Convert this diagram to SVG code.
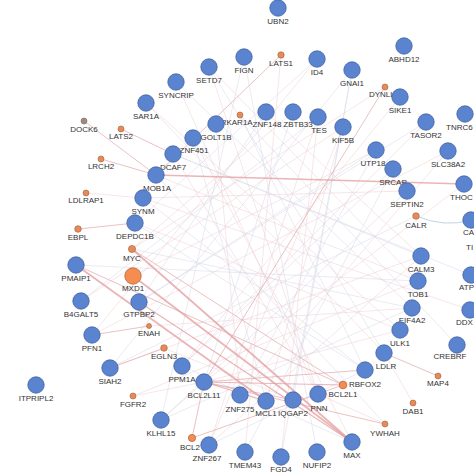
<svg xmlns="http://www.w3.org/2000/svg" width="474" height="474" viewBox="0 0 474 474">
<style>
.b{fill:#5b84d0;stroke:#41619f;stroke-width:0.8}
.o{fill:#f58d50;stroke:#b8663c;stroke-width:0.8}
.s{fill:#e48b58;stroke:#a8603a;stroke-width:0.6}
.g{fill:#a08a80;stroke:#7a6a62;stroke-width:0.6}
text{font-family:"Liberation Sans",Arial,sans-serif;font-size:8px;fill:#333;text-anchor:middle}
.f{stroke:#ebcbd0;stroke-width:0.6;fill:none;opacity:0.8}
.q{stroke:#d3d5e6;stroke-width:0.6;fill:none;opacity:0.8}
.m{stroke:#e6b2b6;stroke-width:0.9;fill:none;opacity:0.9}
.t{stroke:#e39c9f;stroke-width:1.8;fill:none;opacity:0.75}
</style>
<rect width="474" height="474" fill="#fff"/>
<g id="connectors">
<line class="f" x1="209" y1="67" x2="418" y2="281"/>
<line class="q" x1="176" y1="82" x2="412" y2="308"/>
<line class="f" x1="146" y1="103" x2="400" y2="330"/>
<line class="q" x1="244" y1="57" x2="161" y2="420"/>
<line class="f" x1="317" y1="59" x2="92" y2="335"/>
<line class="q" x1="352" y1="70" x2="110" y2="368"/>
<line class="f" x1="343" y1="127" x2="209" y2="445"/>
<line class="q" x1="318" y1="117" x2="81" y2="301"/>
<line class="f" x1="293" y1="112" x2="132" y2="249"/>
<line class="q" x1="266" y1="112" x2="139" y2="302"/>
<line class="f" x1="376" y1="150" x2="133" y2="276"/>
<line class="q" x1="393" y1="169" x2="182" y2="366"/>
<line class="f" x1="407" y1="191" x2="143" y2="198"/>
<line class="q" x1="421" y1="256" x2="173" y2="154"/>
<line class="f" x1="418" y1="281" x2="156" y2="175"/>
<line class="q" x1="412" y1="308" x2="132" y2="249"/>
<line class="f" x1="384" y1="353" x2="146" y2="103"/>
<line class="q" x1="365" y1="370" x2="135" y2="223"/>
<line class="f" x1="318" y1="394" x2="209" y2="67"/>
<line class="q" x1="293" y1="400" x2="352" y2="70"/>
<line class="f" x1="266" y1="401" x2="343" y2="127"/>
<line class="q" x1="240" y1="395" x2="376" y2="150"/>
<line class="f" x1="352" y1="442" x2="193" y2="138"/>
<line class="q" x1="317" y1="452" x2="244" y2="57"/>
<line class="f" x1="281" y1="457" x2="318" y2="117"/>
<line class="q" x1="245" y1="452" x2="393" y2="169"/>
<line class="f" x1="209" y1="445" x2="421" y2="256"/>
<line class="q" x1="161" y1="420" x2="407" y2="191"/>
<line class="f" x1="182" y1="366" x2="426" y2="122"/>
<line class="q" x1="110" y1="368" x2="416" y2="216"/>
<line class="f" x1="92" y1="335" x2="448" y2="151"/>
<line class="q" x1="139" y1="302" x2="376" y2="150"/>
<line class="f" x1="81" y1="301" x2="343" y2="127"/>
<line class="q" x1="76" y1="265" x2="418" y2="281"/>
<line class="f" x1="135" y1="223" x2="400" y2="330"/>
<line class="q" x1="143" y1="198" x2="365" y2="370"/>
<line class="f" x1="173" y1="154" x2="318" y2="394"/>
<line class="q" x1="193" y1="138" x2="266" y2="401"/>
<line class="f" x1="216" y1="124" x2="240" y2="395"/>
<line class="q" x1="293" y1="112" x2="204" y2="382"/>
<line class="f" x1="318" y1="117" x2="209" y2="445"/>
<line class="q" x1="352" y1="70" x2="281" y2="457"/>
<line class="f" x1="400" y1="97" x2="182" y2="366"/>
<line class="q" x1="426" y1="122" x2="139" y2="302"/>
<line class="f" x1="385" y1="87" x2="132" y2="249"/>
<line class="f" x1="464" y1="184" x2="204" y2="382"/>
<line class="q" x1="471" y1="275" x2="173" y2="154"/>
<line class="f" x1="470" y1="310" x2="143" y2="198"/>
<line class="q" x1="457" y1="345" x2="240" y2="115"/>
<line class="f" x1="448" y1="151" x2="240" y2="395"/>
<line class="q" x1="240" y1="115" x2="365" y2="370"/>
<line class="f" x1="281" y1="55" x2="245" y2="452"/>
<line class="q" x1="317" y1="59" x2="135" y2="223"/>
<line class="f" x1="86" y1="193" x2="143" y2="198"/>
<line class="f" x1="413" y1="403" x2="384" y2="353"/>
<line class="f" x1="385" y1="424" x2="318" y2="394"/>
<line class="q" x1="385" y1="424" x2="156" y2="175"/>
<line class="f" x1="133" y1="396" x2="204" y2="382"/>
<line class="f" x1="161" y1="420" x2="204" y2="382"/>
<line class="q" x1="182" y1="366" x2="352" y2="442"/>
<line class="f" x1="164" y1="348" x2="293" y2="400"/>
<line class="f" x1="149" y1="326" x2="412" y2="308"/>
<line class="q" x1="209" y1="445" x2="365" y2="370"/>
<line class="f" x1="266" y1="112" x2="421" y2="256"/>
<line class="q" x1="209" y1="67" x2="384" y2="353"/>
<line class="f" x1="176" y1="82" x2="318" y2="394"/>
<line class="f" x1="400" y1="330" x2="204" y2="382"/>
<line class="q" x1="412" y1="308" x2="161" y2="420"/>
<line class="f" x1="418" y1="281" x2="133" y2="396"/>
<line class="f" x1="421" y1="256" x2="110" y2="368"/>
<line class="m" x1="281" y1="55" x2="156" y2="175"/>
<line class="m" x1="121" y1="129" x2="173" y2="154"/>
<line class="m" x1="101" y1="159" x2="156" y2="175"/>
<line class="m" x1="84" y1="121" x2="156" y2="175"/>
<line class="m" x1="78" y1="229" x2="135" y2="223"/>
<line class="m" x1="92" y1="335" x2="149" y2="326"/>
<line class="m" x1="110" y1="368" x2="164" y2="348"/>
<line class="m" x1="192" y1="438" x2="204" y2="382"/>
<line class="m" x1="438" y1="376" x2="384" y2="353"/>
<line class="m" x1="385" y1="424" x2="204" y2="382"/>
<line class="m" x1="385" y1="87" x2="204" y2="382"/>
<line class="m" x1="132" y1="249" x2="343" y2="385"/>
<line class="m" x1="204" y1="382" x2="365" y2="370"/>
<line class="m" x1="204" y1="382" x2="293" y2="400"/>
<line class="m" x1="192" y1="438" x2="343" y2="385"/>
<line class="m" x1="76" y1="265" x2="343" y2="385"/>
<path d="M416 216 Q445 228 471 220" fill="none" stroke="#b7cfe3" stroke-width="0.9"/>
<line class="t" x1="156" y1="175" x2="464" y2="184" style="stroke-width:1.5"/>
<line class="t" x1="76" y1="265" x2="266" y2="401"/>
<line class="t" x1="133" y1="276" x2="352" y2="442"/>
<line class="t" x1="132" y1="249" x2="352" y2="442"/>
<line class="t" x1="139" y1="302" x2="352" y2="442" style="stroke-width:1.2"/>
<line class="t" x1="204" y1="382" x2="266" y2="401" style="stroke-width:1.2"/>
<line class="t" x1="204" y1="382" x2="343" y2="385" style="stroke-width:1.2"/>
</g>
<g id="UBN2"><circle class="b" cx="278" cy="8" r="8.2"/><text x="278" y="24">UBN2</text></g>
<g id="FIGN"><circle class="b" cx="244" cy="57" r="8.2"/><text x="244" y="73">FIGN</text></g>
<g id="LATS1"><circle class="s" cx="281" cy="55" r="3.2"/><text x="281" y="66">LATS1</text></g>
<g id="ID4"><circle class="b" cx="317" cy="59" r="8.2"/><text x="317" y="75">ID4</text></g>
<g id="GNAI1"><circle class="b" cx="352" cy="70" r="8.2"/><text x="352" y="86">GNAI1</text></g>
<g id="ABHD12"><circle class="b" cx="404" cy="46" r="8.2"/><text x="404" y="62">ABHD12</text></g>
<g id="DYNLL1"><circle class="s" cx="385" cy="87" r="3"/><text x="384" y="97">DYNLL1</text></g>
<g id="SIKE1"><circle class="b" cx="400" cy="97" r="8.2"/><text x="400" y="113">SIKE1</text></g>
<g id="TNRC6"><circle class="b" cx="465" cy="114" r="8.2"/><text x="446" y="130" style="text-anchor:start">TNRC6</text></g>
<g id="TASOR2"><circle class="b" cx="426" cy="122" r="8.2"/><text x="426" y="138">TASOR2</text></g>
<g id="SETD7"><circle class="b" cx="209" cy="67" r="8.2"/><text x="209" y="83">SETD7</text></g>
<g id="SYNCRIP"><circle class="b" cx="176" cy="82" r="8.2"/><text x="176" y="98">SYNCRIP</text></g>
<g id="SAR1A"><circle class="b" cx="146" cy="103" r="8.2"/><text x="146" y="119">SAR1A</text></g>
<g id="DOCK6"><circle class="g" cx="84" cy="121" r="3"/><text x="84" y="132">DOCK6</text></g>
<g id="LATS2"><circle class="s" cx="121" cy="129" r="3"/><text x="121" y="139">LATS2</text></g>
<g id="LRCH2"><circle class="s" cx="101" cy="159" r="3"/><text x="101" y="169">LRCH2</text></g>
<g id="LDLRAP1"><circle class="s" cx="86" cy="193" r="3"/><text x="86" y="203">LDLRAP1</text></g>
<g id="EBPL"><circle class="s" cx="78" cy="229" r="3.3"/><text x="78" y="240">EBPL</text></g>
<g id="PRKAR1A"><circle class="s" cx="240" cy="115" r="3"/><text x="234" y="125">PRKAR1A</text></g>
<g id="GOLT1B"><circle class="b" cx="216" cy="124" r="8.2"/><text x="216" y="140">GOLT1B</text></g>
<g id="ZNF451"><circle class="b" cx="193" cy="138" r="8.2"/><text x="194" y="153">ZNF451</text></g>
<g id="DCAF7"><circle class="b" cx="173" cy="154" r="8.2"/><text x="173" y="170">DCAF7</text></g>
<g id="MOB1A"><circle class="b" cx="156" cy="175" r="8.2"/><text x="157" y="191">MOB1A</text></g>
<g id="ZNF148"><circle class="b" cx="266" cy="112" r="8.2"/><text x="267" y="127">ZNF148</text></g>
<g id="ZBTB33"><circle class="b" cx="293" cy="112" r="8.2"/><text x="298" y="127">ZBTB33</text></g>
<g id="TES"><circle class="b" cx="318" cy="117" r="8.2"/><text x="319" y="133">TES</text></g>
<g id="KIF5B"><circle class="b" cx="343" cy="127" r="8.2"/><text x="343" y="143">KIF5B</text></g>
<g id="UTP18"><circle class="b" cx="376" cy="150" r="8.2"/><text x="373" y="166">UTP18</text></g>
<g id="SRCAP"><circle class="b" cx="393" cy="169" r="8.2"/><text x="393" y="185">SRCAP</text></g>
<g id="SLC38A2"><circle class="b" cx="448" cy="151" r="8.2"/><text x="448" y="167">SLC38A2</text></g>
<g id="THOC"><circle class="b" cx="464" cy="184" r="8.2"/><text x="450" y="200" style="text-anchor:start">THOC</text></g>
<g id="SEPTIN2"><circle class="b" cx="407" cy="191" r="8.2"/><text x="407" y="207">SEPTIN2</text></g>
<g id="CALR"><circle class="s" cx="416" cy="216" r="3.3"/><text x="416" y="228">CALR</text></g>
<g id="CA"><circle class="b" cx="471" cy="220" r="8.2"/><text x="463" y="235" style="text-anchor:start">CA</text></g>
<g id="TI"><text x="466" y="250" style="text-anchor:start">TI</text></g>
<g id="CALM3"><circle class="b" cx="421" cy="256" r="8.2"/><text x="421" y="272">CALM3</text></g>
<g id="TOB1"><circle class="b" cx="418" cy="281" r="8.2"/><text x="418" y="297">TOB1</text></g>
<g id="ATP"><circle class="b" cx="471" cy="275" r="8.2"/><text x="459" y="290" style="text-anchor:start">ATP</text></g>
<g id="EIF4A2"><circle class="b" cx="412" cy="308" r="8.2"/><text x="412" y="323">EIF4A2</text></g>
<g id="DDX"><circle class="b" cx="470" cy="310" r="8.2"/><text x="456" y="325" style="text-anchor:start">DDX</text></g>
<g id="ULK1"><circle class="b" cx="400" cy="330" r="8.2"/><text x="400" y="346">ULK1</text></g>
<g id="CREBRF"><circle class="b" cx="457" cy="345" r="8.2"/><text x="450" y="359">CREBRF</text></g>
<g id="LDLR"><circle class="b" cx="384" cy="353" r="8.2"/><text x="386" y="369">LDLR</text></g>
<g id="RBFOX2"><circle class="b" cx="365" cy="370" r="8.2"/><text x="365" y="387">RBFOX2</text></g>
<g id="BCL2L1"><circle class="o" cx="343" cy="385" r="3.8"/><text x="343" y="397">BCL2L1</text></g>
<g id="MAP4"><circle class="s" cx="438" cy="376" r="3"/><text x="438" y="386">MAP4</text></g>
<g id="DAB1"><circle class="s" cx="413" cy="403" r="3"/><text x="413" y="414">DAB1</text></g>
<g id="YWHAH"><circle class="s" cx="385" cy="424" r="3"/><text x="385" y="436">YWHAH</text></g>
<g id="PNN"><circle class="b" cx="318" cy="394" r="8.2"/><text x="319" y="411">PNN</text></g>
<g id="IQGAP2"><circle class="b" cx="293" cy="400" r="8.2"/><text x="293" y="416">IQGAP2</text></g>
<g id="MCL1"><circle class="b" cx="266" cy="401" r="8.2"/><text x="266" y="416">MCL1</text></g>
<g id="ZNF275"><circle class="b" cx="240" cy="395" r="8.2"/><text x="240" y="412">ZNF275</text></g>
<g id="MAX"><circle class="b" cx="352" cy="442" r="8.2"/><text x="352" y="458">MAX</text></g>
<g id="NUFIP2"><circle class="b" cx="317" cy="452" r="8.2"/><text x="317" y="468">NUFIP2</text></g>
<g id="FGD4"><circle class="b" cx="281" cy="457" r="8.2"/><text x="281" y="472">FGD4</text></g>
<g id="TMEM43"><circle class="b" cx="245" cy="452" r="8.2"/><text x="245" y="468">TMEM43</text></g>
<g id="BCL2"><circle class="o" cx="192" cy="438" r="3.6"/><text x="190" y="450">BCL2</text></g>
<g id="ZNF267"><circle class="b" cx="209" cy="445" r="8.2"/><text x="207" y="461">ZNF267</text></g>
<g id="KLHL15"><circle class="b" cx="161" cy="420" r="8.2"/><text x="161" y="436">KLHL15</text></g>
<g id="FGFR2"><circle class="s" cx="133" cy="396" r="3"/><text x="133" y="407">FGFR2</text></g>
<g id="BCL2L11"><circle class="b" cx="204" cy="382" r="8.2"/><text x="204" y="398">BCL2L11</text></g>
<g id="PPM1A"><circle class="b" cx="182" cy="366" r="8.2"/><text x="182" y="382">PPM1A</text></g>
<g id="SIAH2"><circle class="b" cx="110" cy="368" r="8.2"/><text x="110" y="384">SIAH2</text></g>
<g id="ITPRIPL2"><circle class="b" cx="36" cy="385" r="8.2"/><text x="36" y="401">ITPRIPL2</text></g>
<g id="PFN1"><circle class="b" cx="92" cy="335" r="8.2"/><text x="92" y="351">PFN1</text></g>
<g id="EGLN3"><circle class="s" cx="164" cy="348" r="3.3"/><text x="164" y="359">EGLN3</text></g>
<g id="ENAH"><circle class="s" cx="149" cy="326" r="2.5"/><text x="149" y="336">ENAH</text></g>
<g id="B4GALT5"><circle class="b" cx="81" cy="301" r="8.2"/><text x="81" y="317">B4GALT5</text></g>
<g id="GTPBP2"><circle class="b" cx="139" cy="302" r="8.2"/><text x="139" y="317">GTPBP2</text></g>
<g id="MXD1"><circle class="o" cx="133" cy="276" r="8.2"/><text x="133" y="291">MXD1</text></g>
<g id="PMAIP1"><circle class="b" cx="76" cy="265" r="8.2"/><text x="76" y="281">PMAIP1</text></g>
<g id="MYC"><circle class="s" cx="132" cy="249" r="3.6"/><text x="132" y="261">MYC</text></g>
<g id="DEPDC1B"><circle class="b" cx="135" cy="223" r="8.2"/><text x="135" y="239">DEPDC1B</text></g>
<g id="SYNM"><circle class="b" cx="143" cy="198" r="8.2"/><text x="143" y="214">SYNM</text></g>
</svg>
